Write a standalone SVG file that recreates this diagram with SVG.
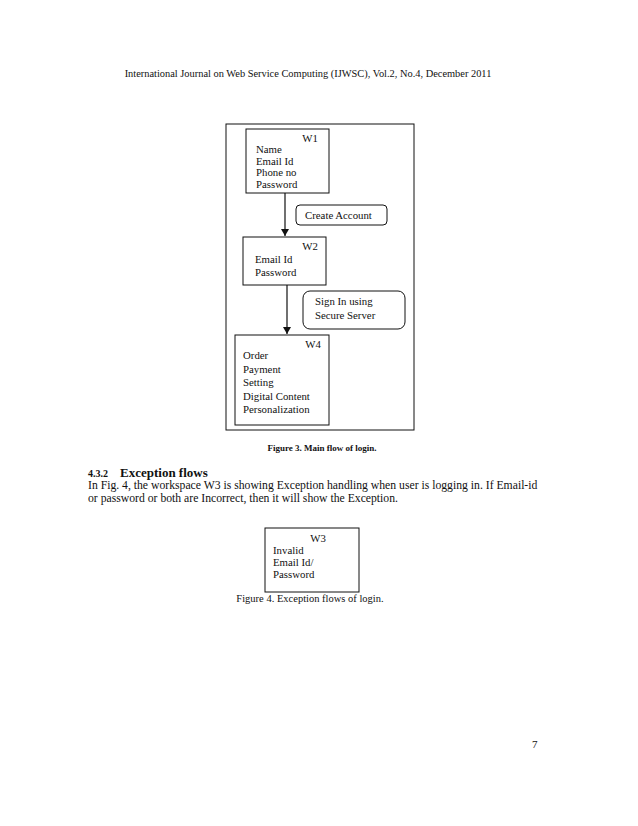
<svg xmlns="http://www.w3.org/2000/svg" width="638" height="826" viewBox="0 0 638 826">
<style>
text{font-family:"Liberation Serif","Times New Roman",serif;fill:#111}
.t{font-size:10.8px}
.box{fill:#fff;stroke:#111;stroke-width:1}
.conn{stroke:#111;stroke-width:1.2;fill:none}
</style>
<defs>
<marker id="ah" markerWidth="8" markerHeight="10" refX="7" refY="5" orient="auto" markerUnits="userSpaceOnUse">
<path d="M0,1 L7,5 L0,9 Z" fill="#111"/>
</marker>
</defs>
<rect width="638" height="826" fill="#fff"/>
<text x="308" y="77" font-size="10.4" text-anchor="middle">International Journal on Web Service Computing (IJWSC), Vol.2, No.4, December 2011</text>

<g id="frame"><rect class="box" x="226" y="124" width="188" height="306"/></g>

<g id="W1">
<rect class="box" x="246" y="129" width="83" height="64"/>
<text class="t" x="310" y="142" text-anchor="middle">W1</text>
<text class="t" x="256" y="153">Name</text>
<text class="t" x="256" y="164.5">Email Id</text>
<text class="t" x="256" y="176">Phone no</text>
<text class="t" x="256" y="187.5">Password</text>
</g>
<g id="createAccount">
<rect class="box" x="296" y="205" width="91" height="20" rx="4"/>
<text class="t" x="305" y="219">Create Account</text>
</g>
<g id="W2">
<rect class="box" x="243" y="237" width="83" height="48"/>
<text class="t" x="310" y="250" text-anchor="middle">W2</text>
<text class="t" x="255" y="263">Email Id</text>
<text class="t" x="255" y="276">Password</text>
</g>
<g id="signIn">
<rect class="box" x="303" y="291" width="102" height="38" rx="7"/>
<text class="t" x="315" y="305">Sign In using</text>
<text class="t" x="315" y="318.5">Secure Server</text>
</g>
<g id="W4">
<rect class="box" x="235" y="335" width="94" height="90"/>
<text class="t" x="313" y="348" text-anchor="middle">W4</text>
<text class="t" x="243" y="359">Order</text>
<text class="t" x="243" y="372.5">Payment</text>
<text class="t" x="243" y="386">Setting</text>
<text class="t" x="243" y="399.5">Digital Content</text>
<text class="t" x="243" y="413">Personalization</text>
</g>
<g id="connectors">
<line class="conn" x1="285" y1="193" x2="285" y2="236" marker-end="url(#ah)"/>
<line class="conn" x1="287" y1="285" x2="287" y2="334" marker-end="url(#ah)"/>
</g>
<text x="322" y="451" font-size="9" font-weight="bold" text-anchor="middle">Figure 3. Main flow of login.</text>

<text x="88" y="477" font-size="10" font-weight="bold">4.3.2</text>
<text x="120" y="477" font-size="13" font-weight="bold">Exception flows</text>
<text x="88" y="489" font-size="11.7">In Fig. 4, the workspace W3 is showing Exception handling when user is logging in. If Email-id</text>
<text x="88" y="502" font-size="11.7">or password or both are Incorrect, then it will show the Exception.</text>

<g id="W3">
<rect class="box" x="265" y="528" width="94" height="64"/>
<text class="t" x="318" y="542" text-anchor="middle">W3</text>
<text class="t" x="273" y="553.5">Invalid</text>
<text class="t" x="273" y="565.5">Email Id/</text>
<text class="t" x="273" y="577.5">Password</text>
</g>
<text x="310" y="602" font-size="10.5" text-anchor="middle">Figure 4. Exception flows of login.</text>
<text x="532" y="748" font-size="11">7</text>
</svg>
